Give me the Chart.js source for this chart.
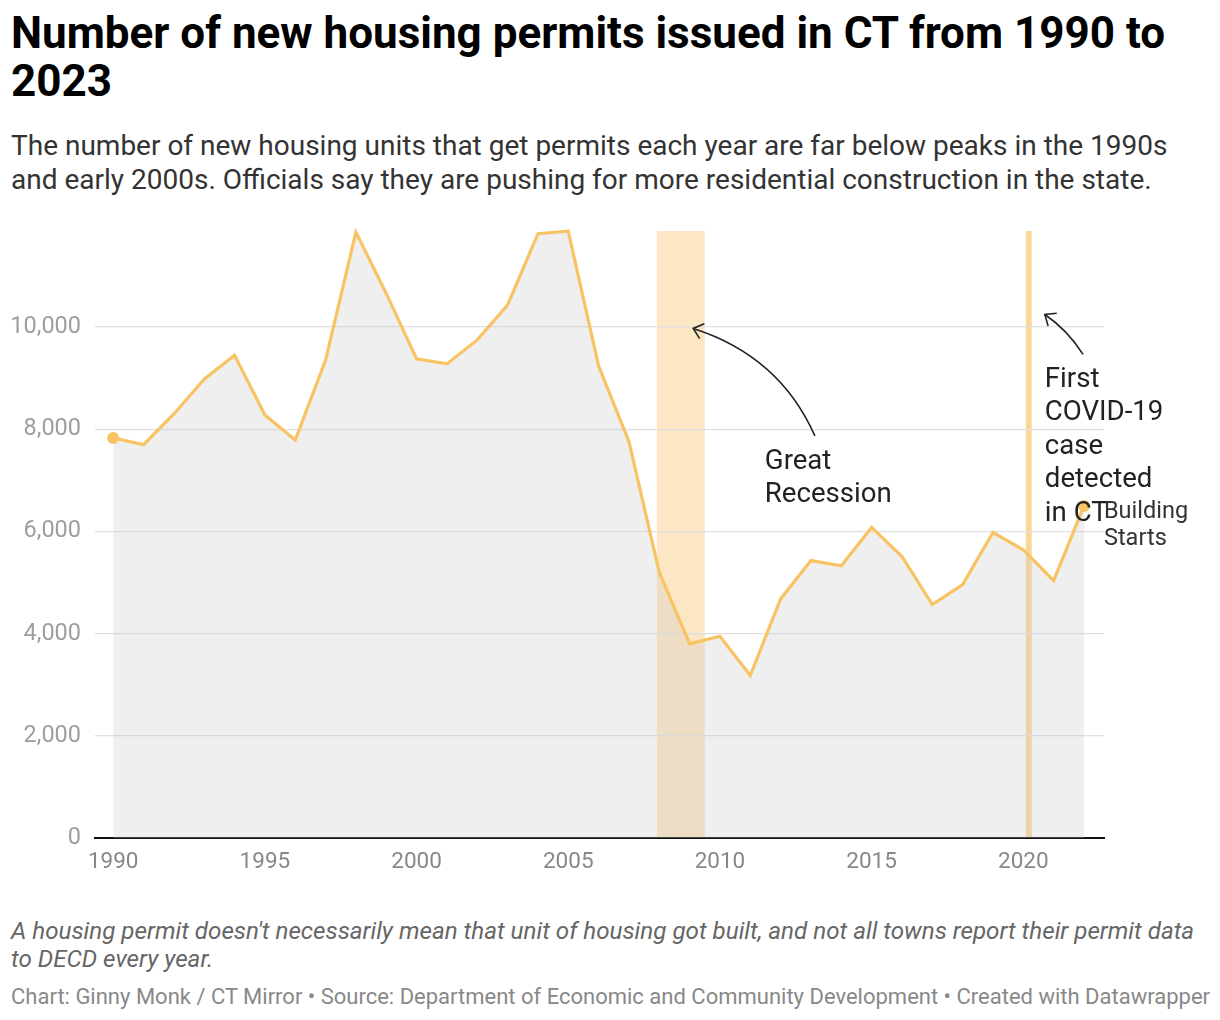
<!DOCTYPE html>
<html>
<head>
<meta charset="utf-8">
<script src="https://cdn.jsdelivr.net/npm/chart.js@4.4.1/dist/chart.umd.min.js"></script>
<style>
  html, body { margin: 0; padding: 0; background: #fff; }
  body { width: 1220px; height: 1020px; position: relative; overflow: hidden; font-family: Roboto, "Noto Sans", sans-serif; }
  #title { position: absolute; left: 11px; top: 9px; font-weight: 700; font-size: 44px; line-height: 48px; color: #000; white-space: nowrap; }
  #subtitle { position: absolute; left: 11px; top: 129px; font-size: 28px; line-height: 34px; color: #333; white-space: nowrap; }
  #chartwrap { position: absolute; left: 0; top: 203px; width: 1220px; height: 687px; }
  #notes { position: absolute; left: 11px; top: 917px; font-size: 24.2px; line-height: 28px; color: #666; font-style: italic; white-space: nowrap; }
  #footer { position: absolute; left: 11px; top: 984px; font-size: 22px; line-height: 26px; color: #888; white-space: nowrap; }
</style>
</head>
<body>
<div id="title">Number of new housing permits issued in CT from 1990 to<br>2023</div>
<div id="subtitle">The number of new housing units that get permits each year are far below peaks in the 1990s<br>and early 2000s. Officials say they are pushing for more residential construction in the state.</div>
<div id="chartwrap"><canvas id="c" width="1220" height="687"></canvas></div>
<div id="notes">A housing permit doesn't necessarily mean that unit of housing got built, and not all towns report their permit data<br>to DECD every year.</div>
<div id="footer">Chart: Ginny Monk / CT Mirror • Source: Department of Economic and Community Development • Created with Datawrapper</div>
<script>
// ---- data ----
const years = [1990,1991,1992,1993,1994,1995,1996,1997,1998,1999,2000,2001,2002,2003,2004,2005,2006,2007,2008,2009,2010,2011,2012,2013,2014,2015,2016,2017,2018,2019,2020,2021,2022];
const permits = [7830,7700,8300,8980,9450,8280,7790,9350,11860,10660,9380,9280,9750,10430,11830,11880,9240,7760,5200,3800,3950,3180,4680,5430,5330,6080,5510,4570,4960,5980,5640,5040,6500];
const xTicks = [1990,1995,2000,2005,2010,2015,2020];
const yTicks = [0,2000,4000,6000,8000,10000];
const seriesName = ["Building", "Starts"];
const recession = [2007.92, 2009.5];
const covidDate = 2020.18;
const recessionLabel = ["Great", "Recession"];
const covidLabel = ["First", "COVID-19", "case", "detected", "in CT"];

const points = years.map((y, i) => ({x: y, y: permits[i]}));
const pointRadii = years.map((y, i) => (i === 0 || i === years.length - 1) ? 6 : 0);

const annotationPlugin = {
  id: 'annots',
  beforeDraw(chart) {
    const {ctx, chartArea, scales} = chart;
    const xs = scales.x;
    ctx.save();
    const x0 = xs.getPixelForValue(recession[0]);
    const x1 = xs.getPixelForValue(recession[1]);
    ctx.fillStyle = '#fce6c4';
    ctx.fillRect(x0, chartArea.top, x1 - x0, chartArea.bottom - chartArea.top);
    const cx = xs.getPixelForValue(covidDate);
    ctx.fillStyle = '#fad79b';
    ctx.fillRect(cx - 3, chartArea.top, 6, chartArea.bottom - chartArea.top);
    ctx.restore();
  },
  afterDatasetsDraw(chart) {
    const {ctx, scales} = chart;
    const X = v => scales.x.getPixelForValue(v);
    const Y = v => scales.y.getPixelForValue(v);
    ctx.save();
    ctx.fillStyle = '#222';
    ctx.textBaseline = 'middle';
    ctx.textAlign = 'left';
    ctx.font = '27.6px Roboto, "Noto Sans", sans-serif';
    recessionLabel.forEach((t, i) => ctx.fillText(t, X(2011.48), Y(7363) + i * 33.5));
    covidLabel.forEach((t, i) => ctx.fillText(t, X(2020.71), Y(8965) + i * 33.5));

    function arrow(p0, c, p2) {
      ctx.strokeStyle = '#222';
      ctx.lineWidth = 1.6;
      ctx.beginPath();
      ctx.moveTo(p0[0], p0[1]);
      ctx.quadraticCurveTo(c[0], c[1], p2[0], p2[1]);
      ctx.stroke();
      const ang = Math.atan2(p2[1] - c[1], p2[0] - c[0]);
      const len = 12, spread = 0.7;
      ctx.beginPath();
      ctx.moveTo(p2[0] - len * Math.cos(ang - spread), p2[1] - len * Math.sin(ang - spread));
      ctx.lineTo(p2[0], p2[1]);
      ctx.lineTo(p2[0] - len * Math.cos(ang + spread), p2[1] - len * Math.sin(ang + spread));
      ctx.stroke();
    }
    arrow([X(2013.13), Y(7871)], [X(2011.97), Y(9434)], [X(2009.12), Y(9975)]);
    arrow([X(2021.97), Y(9467)], [X(2021.45), Y(9950)], [X(2020.71), Y(10248)]);

    const lx = X(years[years.length - 1]);
    const ly = Y(permits[permits.length - 1]);
    ctx.font = '23.5px Roboto, "Noto Sans", sans-serif';
    ctx.fillStyle = '#333';
    ctx.fillText(seriesName[0], lx + 20, ly + 6);
    ctx.fillText(seriesName[1], lx + 20, ly + 33);
    ctx.restore();
  }
};

new Chart(document.getElementById('c'), {
  type: 'line',
  data: {
    datasets: [{
      data: points,
      borderColor: '#f8c463',
      borderWidth: 3.2,
      backgroundColor: 'rgba(200,200,200,0.29)',
      fill: 'origin',
      tension: 0,
      pointRadius: pointRadii,
      pointHoverRadius: pointRadii,
      pointBackgroundColor: '#f8c463',
      pointBorderWidth: 0,
      clip: false
    }]
  },
  options: {
    responsive: false,
    devicePixelRatio: 1,
    animation: false,
    events: [],
    layout: { padding: { left: 0, right: 116, top: 20, bottom: 0 } },
    plugins: { legend: { display: false }, tooltip: { enabled: false } },
    scales: {
      x: {
        type: 'linear',
        min: 1989.4,
        max: 2022.66,
        afterBuildTicks(scale) { scale.ticks = xTicks.map(v => ({value: v})); },
        afterFit(scale) { scale.height = 52; },
        grid: { display: false, drawTicks: false },
        border: { display: true, color: '#111', width: 2 },
        ticks: {
          padding: 11,
          color: '#888',
          font: { family: 'Roboto', size: 22.5 },
          callback: v => String(v),
          maxRotation: 0
        }
      },
      y: {
        min: 0,
        max: Math.max(...permits),
        afterBuildTicks(scale) { scale.ticks = yTicks.map(v => ({value: v})); },
        afterFit(scale) { scale.width = 95; },
        grid: { color: '#e0e0e0', lineWidth: 1.3, drawTicks: false },
        border: { display: false },
        ticks: {
          padding: 14,
          color: '#9e9e9e',
          font: { family: 'Roboto', size: 23.5 },
          callback: v => v.toLocaleString('en-US')
        }
      }
    }
  },
  plugins: [annotationPlugin]
});
</script>
</body>
</html>
